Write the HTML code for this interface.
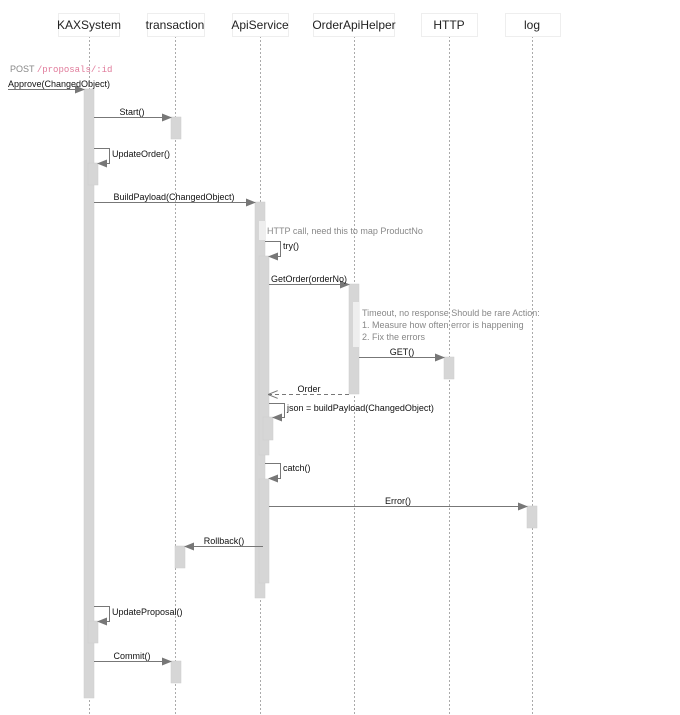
<!DOCTYPE html>
<html><head><meta charset="utf-8"><style>
html,body{margin:0;padding:0;background:#fff;}
svg{display:block;font-family:"Liberation Sans",sans-serif;}
</style></head><body>
<svg width="680" height="715" viewBox="0 0 680 715" xmlns="http://www.w3.org/2000/svg">
<defs>
<marker id="ah" markerWidth="10" markerHeight="8" refX="9" refY="4" orient="auto" markerUnits="userSpaceOnUse"><path d="M0,0 L10,4 L0,8 z" fill="#777"/></marker>
<marker id="ao" markerWidth="10" markerHeight="8" refX="9" refY="4" orient="auto" markerUnits="userSpaceOnUse"><path d="M0,0 L10,4 L0,8" fill="none" stroke="#777"/></marker>
</defs>
<g stroke="#aaa" stroke-dasharray="2,2" stroke-width="1">
<line x1="89.5" y1="36" x2="89.5" y2="715"/><line x1="175.5" y1="36" x2="175.5" y2="715"/>
<line x1="260.5" y1="36" x2="260.5" y2="715"/><line x1="354.5" y1="36" x2="354.5" y2="715"/>
<line x1="449.5" y1="36" x2="449.5" y2="715"/><line x1="532.5" y1="36" x2="532.5" y2="715"/>
</g>
<g font-size="12" fill="#222" text-anchor="middle">
<g><rect x="58.5" y="13.5" width="61" height="23" fill="#fff" stroke="#eee"/><text x="89" y="29">KAXSystem</text></g>
<g><rect x="147.5" y="13.5" width="57" height="23" fill="#fff" stroke="#eee"/><text x="175" y="29">transaction</text></g>
<g><rect x="232.5" y="13.5" width="56" height="23" fill="#fff" stroke="#eee"/><text x="260" y="29">ApiService</text></g>
<g><rect x="313.5" y="13.5" width="81" height="23" fill="#fff" stroke="#eee"/><text x="354" y="29">OrderApiHelper</text></g>
<g><rect x="421.5" y="13.5" width="56" height="23" fill="#fff" stroke="#eee"/><text x="449" y="29">HTTP</text></g>
<g><rect x="505.5" y="13.5" width="55" height="23" fill="#fff" stroke="#eee"/><text x="532" y="29">log</text></g>
</g>
<g fill="#d6d6d6" stroke="#ccc" stroke-width="0.5">
<rect x="84" y="89" width="10" height="609"/>
<rect x="171" y="117" width="10" height="22"/>
<rect x="88" y="163" width="10" height="22"/>
<rect x="255" y="202" width="10" height="396"/>
<rect x="259" y="256" width="10" height="199"/>
<rect x="349" y="284" width="10" height="110"/>
<rect x="444" y="357" width="10" height="22"/>
<rect x="263" y="417" width="10" height="23"/>
<rect x="259" y="479" width="10" height="104"/>
<rect x="527" y="506" width="10" height="22"/>
<rect x="175" y="546" width="10" height="22"/>
<rect x="88" y="621" width="10" height="22"/>
<rect x="171" y="661" width="10" height="22"/>
</g>
<rect x="259" y="221" width="7" height="19" fill="#eee"/>
<rect x="353" y="302" width="6" height="45" fill="#eee"/>
<g stroke="#777" stroke-width="1" fill="none" marker-end="url(#ah)">
<line x1="8" y1="89.5" x2="84" y2="89.5"/>
<line x1="94" y1="117.5" x2="171" y2="117.5"/>
<polyline points="94,148.5 109.5,148.5 109.5,163.5 98,163.5"/>
<line x1="94" y1="202.5" x2="255" y2="202.5"/>
<polyline points="265,241.5 280.5,241.5 280.5,256.5 269,256.5"/>
<line x1="269" y1="284.5" x2="349" y2="284.5"/>
<line x1="359" y1="357.5" x2="444" y2="357.5"/>
<polyline points="269,403.5 284.5,403.5 284.5,417.5 273,417.5"/>
<polyline points="265,463.5 280.5,463.5 280.5,478.5 269,478.5"/>
<line x1="269" y1="506.5" x2="527" y2="506.5"/>
<line x1="263" y1="546.5" x2="185" y2="546.5"/>
<polyline points="94,606.5 109.5,606.5 109.5,621.5 98,621.5"/>
<line x1="94" y1="661.5" x2="171" y2="661.5"/>
</g>
<line x1="349" y1="394.5" x2="269" y2="394.5" stroke="#777" stroke-dasharray="4,3" marker-end="url(#ao)"/>
<g font-size="9" fill="#111">
<text x="8" y="87">Approve(ChangedObject)</text>
<text x="132" y="115" text-anchor="middle">Start()</text>
<text x="112" y="157">UpdateOrder()</text>
<text x="174" y="200" text-anchor="middle">BuildPayload(ChangedObject)</text>
<text x="283" y="249">try()</text>
<text x="309" y="282" text-anchor="middle">GetOrder(orderNo)</text>
<text x="402" y="355" text-anchor="middle">GET()</text>
<text x="309" y="392" text-anchor="middle">Order</text>
<text x="287" y="411">json = buildPayload(ChangedObject)</text>
<text x="283" y="471">catch()</text>
<text x="398" y="504" text-anchor="middle">Error()</text>
<text x="224" y="544" text-anchor="middle">Rollback()</text>
<text x="112" y="615">UpdateProposal()</text>
<text x="132" y="659" text-anchor="middle">Commit()</text>
</g>
<g font-size="9" fill="#888">
<text x="10" y="72">POST <tspan fill="#e07a9a" font-family="Liberation Mono,monospace">/proposals/:id</tspan></text>
<text x="267" y="234">HTTP call, need this to map ProductNo</text>
<text x="362" y="316">Timeout, no response Should be rare Action:</text>
<text x="362" y="328">1. Measure how often error is happening</text>
<text x="362" y="340">2. Fix the errors</text>
</g>
</svg>
</body></html>
